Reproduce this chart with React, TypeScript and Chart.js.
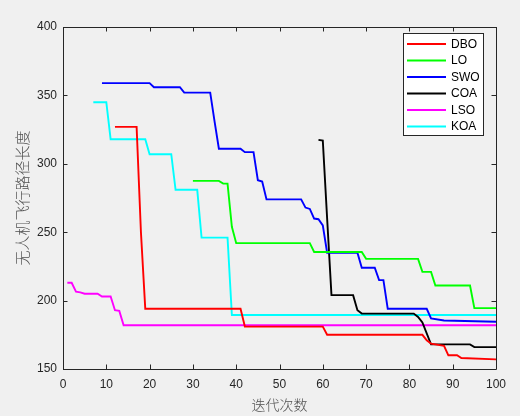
import React, { useEffect, useRef } from "react";
import { Chart, registerables } from "chart.js";

Chart.register(...registerables);

const xTicks = [0, 10, 20, 30, 40, 50, 60, 70, 80, 90, 100];
const yTicks = [150, 200, 250, 300, 350, 400];

const seriesNames = ["DBO", "LO", "SWO", "COA", "LSO", "KOA"];
const seriesColors = ["#ff0000", "#00ff00", "#0000ff", "#000000", "#ff00ff", "#00ffff"];

const dboIter = [12, 17, 18, 19, 41, 42, 60, 61, 83, 84, 85, 88, 89, 91, 92, 100];
const dboLen = [327, 327, 250, 194, 194, 181, 181, 175, 175, 171, 168.5, 167, 160, 160, 158, 157];

const loIter = [30, 36, 37, 38, 39, 40, 57, 58, 69, 70, 82, 83, 85, 86, 94, 95, 100];
const loLen = [287.5, 287.5, 285.5, 285.5, 254, 242, 242, 235.5, 235.5, 230.5, 230.5, 221, 221, 211, 211, 194.5, 194.5];

const swoIter = [9, 20, 21, 27, 28, 34, 35, 36, 41, 42, 44, 45, 46, 47, 55, 56, 57, 58, 59, 60, 61, 68, 69, 72, 73, 74, 75, 84, 85, 88, 100];
const swoLen = [359, 359, 356, 356, 352, 352, 331, 311, 311, 308.5, 308.5, 288, 287, 274, 274, 268, 267, 260, 259.5, 255, 235, 235, 224, 224, 215, 215, 194, 194, 187, 185.5, 184.5];

const coaIter = [59, 60, 61, 62, 67, 68, 69, 81, 82, 83, 85, 94, 95, 100];
const coaLen = [317.5, 317, 260, 204, 204, 193, 190.5, 190.5, 188, 184, 168, 168, 166, 166];

const lsoIter = [1, 2, 3, 4, 5, 8, 9, 11, 12, 13, 14, 100];
const lsoLen = [213, 213, 206.5, 206, 205, 205, 203, 203, 193, 192.5, 182, 182];

const koaIter = [7, 10, 11, 19, 20, 25, 26, 31, 32, 38, 39, 100];
const koaLen = [345, 345, 318, 318, 307, 307, 281, 281, 246, 246, 189.5, 189.5];

const seriesIters = [dboIter, loIter, swoIter, coaIter, lsoIter, koaIter];
const seriesLens = [dboLen, loLen, swoLen, coaLen, lsoLen, koaLen];

const axisColor = "#262626";
const latinFont = "'Liberation Sans', Arial, sans-serif";
const cjkFont = "'Noto Sans CJK SC', sans-serif";

const framePlugin = {
  id: "matlabFrame",
  afterDatasetsDraw(chart: any) {
    const { ctx, chartArea, scales } = chart;
    const { left, right, top, bottom } = chartArea;
    const xs = scales.x;
    const ys = scales.y;
    const tl = 4.5;
    ctx.save();
    ctx.strokeStyle = axisColor;
    ctx.lineWidth = 1;
    ctx.beginPath();
    ctx.rect(Math.round(left) + 0.5, Math.round(top) + 0.5, Math.round(right - left), Math.round(bottom - top));
    ctx.stroke();
    ctx.beginPath();
    xTicks.forEach((v) => {
      const px = Math.round(xs.getPixelForValue(v)) + 0.5;
      ctx.moveTo(px, bottom);
      ctx.lineTo(px, bottom - tl);
      ctx.moveTo(px, top);
      ctx.lineTo(px, top + tl);
    });
    yTicks.forEach((v) => {
      const py = Math.round(ys.getPixelForValue(v)) + 0.5;
      ctx.moveTo(left, py);
      ctx.lineTo(left + tl, py);
      ctx.moveTo(right, py);
      ctx.lineTo(right - tl, py);
    });
    ctx.stroke();
    ctx.restore();
  },
};

const legendPlugin = {
  id: "matlabLegend",
  afterDraw(chart: any) {
    const { ctx, chartArea } = chart;
    const datasets = chart.data.datasets;
    const boxW = 80;
    const rowH = 16.5;
    const boxH = datasets.length * rowH + 3;
    const boxRight = Math.round(chartArea.right - 13);
    const boxLeft = boxRight - boxW;
    const boxTop = Math.round(chartArea.top + 6);
    ctx.save();
    ctx.fillStyle = "#ffffff";
    ctx.fillRect(boxLeft, boxTop, boxW, boxH);
    ctx.strokeStyle = "#262626";
    ctx.lineWidth = 1;
    ctx.strokeRect(boxLeft + 0.5, boxTop + 0.5, boxW, boxH);
    ctx.font = "12px " + latinFont;
    ctx.textBaseline = "middle";
    ctx.textAlign = "left";
    datasets.forEach((ds: any, i: number) => {
      const cy = boxTop + 11 + i * rowH;
      ctx.strokeStyle = ds.borderColor;
      ctx.lineWidth = 1.9;
      ctx.beginPath();
      ctx.moveTo(boxLeft + 4, cy);
      ctx.lineTo(boxLeft + 43, cy);
      ctx.stroke();
      ctx.fillStyle = "#000000";
      ctx.fillText(ds.label, boxLeft + 48, cy + 0.5);
    });
    ctx.restore();
  },
};

export default function App() {
  const ref = useRef<HTMLCanvasElement>(null);
  useEffect(() => {
    const canvas = ref.current;
    if (!canvas) return;
    const chart = new Chart(canvas, {
      type: "line",
      data: {
        datasets: seriesNames.map((name, i) => ({
          label: name,
          data: seriesIters[i].map((x, j) => ({ x, y: seriesLens[i][j] })),
          borderColor: seriesColors[i],
          backgroundColor: seriesColors[i],
          borderWidth: 1.9,
          pointRadius: 0,
          pointHoverRadius: 0,
          fill: false,
          tension: 0,
        })),
      },
      options: {
        responsive: false,
        animation: false,
        events: [],
        layout: { padding: { left: 0, right: 24, top: 27, bottom: 0 } },
        plugins: {
          legend: { display: false },
          tooltip: { enabled: false },
        },
        scales: {
          x: {
            type: "linear",
            min: 0,
            max: 100,
            grid: { display: false, drawTicks: false },
            border: { display: false },
            ticks: {
              autoSkip: false,
              maxRotation: 0,
              padding: 8,
              color: axisColor,
              font: { family: latinFont, size: 12 },
            },
            afterBuildTicks: (scale: any) => {
              scale.ticks = xTicks.map((v) => ({ value: v }));
            },
            afterFit: (scale: any) => {
              scale.height = 47;
            },
            title: {
              display: true,
              text: "迭代次数",
              color: "#505050",
              font: { family: cjkFont, size: 14, weight: "300" },
              padding: { top: 0, bottom: 3 },
            },
          },
          y: {
            type: "linear",
            min: 150,
            max: 400,
            grid: { display: false, drawTicks: false },
            border: { display: false },
            ticks: {
              autoSkip: false,
              padding: 6,
              color: axisColor,
              font: { family: latinFont, size: 12 },
            },
            afterBuildTicks: (scale: any) => {
              scale.ticks = yTicks.map((v) => ({ value: v }));
            },
            afterFit: (scale: any) => {
              scale.width = 63;
            },
            title: {
              display: true,
              text: "无人机飞行路径长度",
              color: "#505050",
              font: { family: cjkFont, size: 15, weight: "300" },
              padding: { top: 13.5, bottom: 0 },
            },
          },
        },
      },
      plugins: [framePlugin, legendPlugin],
    });
    return () => chart.destroy();
  }, []);

  return (
    <div style={{ position: "fixed", left: 0, top: 0, width: 520, height: 416, background: "#f0f0f0" }}>
      <canvas ref={ref} width={520} height={416} style={{ display: "block", width: 520, height: 416 }} />
    </div>
  );
}
